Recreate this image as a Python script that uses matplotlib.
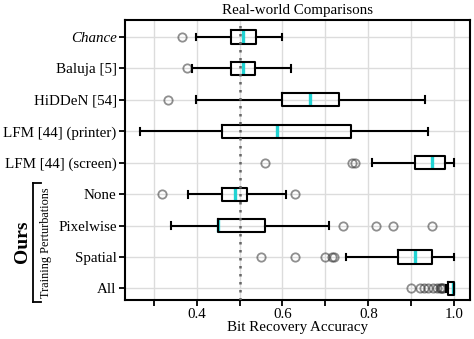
import matplotlib
matplotlib.use("Agg")
import matplotlib.pyplot as plt
from matplotlib.lines import Line2D

plt.rcParams["font.family"] = ["Liberation Serif", "DejaVu Serif"]

# Row labels, top to bottom
labels = ["Chance", "Baluja [5]", "HiDDeN [54]", "LFM [44] (printer)",
          "LFM [44] (screen)", "None", "Pixelwise", "Spatial", "All"]

# Five-number summaries per method
whislo = [0.398, 0.388, 0.398, 0.268, 0.809, 0.379, 0.340, 0.749, 0.980]
q1     = [0.479, 0.479, 0.599, 0.458, 0.909, 0.458, 0.449, 0.869, 0.985]
med    = [0.508, 0.508, 0.665, 0.588, 0.949, 0.489, 0.449, 0.909, 0.998]
q3     = [0.538, 0.537, 0.732, 0.759, 0.979, 0.518, 0.560, 0.949, 1.000]
whishi = [0.599, 0.619, 0.932, 0.940, 0.999, 0.609, 0.708, 0.999, 1.000]
fliers = [
    [0.367],
    [0.378],
    [0.333],
    [],
    [0.559, 0.763, 0.770],
    [0.319, 0.629],
    [0.740, 0.819, 0.857, 0.949],
    [0.549, 0.629, 0.698, 0.716, 0.720],
    [0.900, 0.920, 0.930, 0.940, 0.950, 0.960, 0.966, 0.970, 0.972, 0.974],
]

chance_level = 0.5
xticks = [0.3, 0.4, 0.5, 0.6, 0.7, 0.8, 0.9, 1.0]
xticklabels = ["", "0.4", "", "0.6", "", "0.8", "", "1.0"]

FS = 10.8

fig = plt.figure(figsize=(4.74, 3.39), dpi=100)
ax = fig.add_axes([0.2637, 0.115, 0.7279, 0.826])

stats = []
for i, lab in enumerate(labels):
    stats.append(dict(label=lab, whislo=whislo[i], q1=q1[i], med=med[i],
                      q3=q3[i], whishi=whishi[i], fliers=fliers[i]))

positions = list(range(len(labels)))
ax.bxp(stats, positions=positions, vert=False, widths=0.42,
       showfliers=True, patch_artist=False, manage_ticks=False,
       boxprops=dict(color="black", linewidth=1.5, zorder=4),
       whiskerprops=dict(color="black", linewidth=1.5, zorder=4),
       capprops=dict(color="black", linewidth=1.5, zorder=4),
       capwidths=0.22,
       medianprops=dict(color="#22d3d3", linewidth=2.4, zorder=3,
                        solid_capstyle="butt"),
       flierprops=dict(marker="o", markersize=6, markerfacecolor="none",
                       markeredgecolor="#333333", markeredgewidth=1.3,
                       alpha=0.55, linestyle="none"))

ax.axvline(chance_level, color="#666666", linestyle=(0, (1, 2.2)),
           linewidth=1.8, zorder=5)

ax.set_xlim(0.233, 1.037)
ax.set_ylim(len(labels) - 1 + 0.37, -0.54)
ax.set_xticks(xticks)
ax.set_xticklabels(xticklabels)
ax.set_yticks(positions)
ax.set_yticklabels(labels)
ax.get_yticklabels()[0].set_fontstyle("italic")
ax.tick_params(axis="both", labelsize=FS, direction="out", length=4,
               width=1.3, colors="black")
ax.tick_params(axis="y", pad=2)
ax.tick_params(axis="x", pad=2)
ax.grid(True, color="#dcdcdc", linewidth=1.0, zorder=0)
ax.set_axisbelow(True)
for s in ax.spines.values():
    s.set_linewidth(1.5)

ax.set_title("Real-world Comparisons", fontsize=FS, pad=4)
ax.set_xlabel("Bit Recovery Accuracy", fontsize=FS, labelpad=0)

# Bracket grouping the training-perturbation variants
H = 339.0
y_top = 1 - 182.7 / H
y_bot = 1 - 301.7 / H
xb = 33.3 / 474
xe = 40.5 / 474
for seg in ([xb, xb], [y_top, y_bot]), ([xb, xe], [y_top, y_top]), ([xb, xe], [y_bot, y_bot]):
    fig.add_artist(Line2D(seg[0], seg[1], color="black", linewidth=1.3,
                          transform=fig.transFigure))
y_mid = (y_top + y_bot) / 2
fig.text(23.0 / 474, y_mid, "Ours", rotation=90, fontsize=14,
         fontweight="bold", ha="center", va="center")
fig.text(46 / 474, y_mid, "Training Perturbations", rotation=90,
         fontsize=8.8, ha="center", va="center")

fig.savefig("out.png", dpi=100)
